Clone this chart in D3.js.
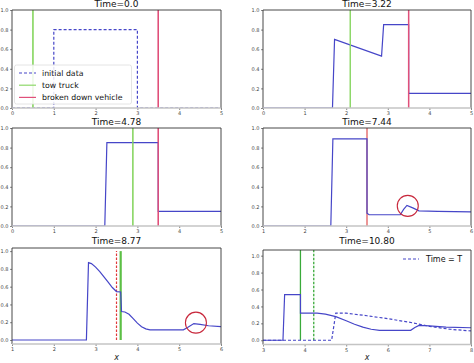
<!DOCTYPE html>
<html><head><meta charset="utf-8">
<script src="https://cdn.jsdelivr.net/npm/d3@7"></script>
<style>body{margin:0;background:#fff}svg{display:block}</style>
</head><body>
<svg id="c" width="474" height="363"></svg>
<script>
// ---- data ----
const titles = ["Time=0.0","Time=3.22","Time=4.78","Time=7.44","Time=8.77","Time=10.80"];
const xDomains = [[0,5],[0,5],[0,5],[1,6],[1,6],[3,8]];
const yTicks = [0,0.2,0.4,0.6,0.8,1.0];
const legendLabels = ["initial data","tow truck","broken down vehicle"];
const legend2Label = "Time = T";

const init_x = [0,1,1,3,3,5];
const init_y = [0,0,0.8,0.8,0,0];

const t322_x = [0,1.67,1.72,2.85,2.9,3.5,3.5,5];
const t322_y = [0,0,0.70,0.53,0.85,0.85,0.15,0.15];

const t478_x = [0,2.22,2.27,3.5,3.5,5];
const t478_y = [0,0,0.85,0.85,0.15,0.15];

const t744_x = [1,2.63,2.68,3.5,3.5,3.55,4.3,4.38,4.46,4.6,4.75,5.2,6];
const t744_y = [0,0,0.89,0.89,0.13,0.115,0.115,0.17,0.21,0.185,0.155,0.15,0.145];

const t877_x = [1,2.78,2.83,2.9,3.0,3.1,3.2,3.3,3.4,3.5,3.6,3.62,3.7,3.8,3.9,4.0,4.1,4.2,4.3,5.1,5.2,5.35,5.5,5.7,6];
const t877_y = [0,0,0.87,0.86,0.82,0.77,0.71,0.65,0.59,0.545,0.54,0.32,0.315,0.29,0.24,0.19,0.15,0.125,0.115,0.115,0.14,0.185,0.175,0.16,0.15];

const t1080_x = [3,3.48,3.52,3.9,3.9,4.3,4.5,4.75,5.0,5.2,5.4,5.6,5.8,6.55,6.65,6.75,7.0,7.4,8];
const t1080_y = [0,0,0.54,0.54,0.32,0.32,0.31,0.28,0.23,0.19,0.155,0.13,0.117,0.117,0.15,0.175,0.17,0.155,0.148];

const tT_x = [3,4.65,4.75,5.0,5.5,6.0,6.5,7.0,7.5,8];
const tT_y = [0,0,0.32,0.32,0.29,0.255,0.215,0.165,0.13,0.11];

// vertical markers: [panel, x, color, dashed, width]
const markers = [
  [0,0.5,"#8ed86a",false,1.3],[0,3.5,"#e0507a",false,1.3],
  [1,2.1,"#8ed86a",false,1.3],[1,3.5,"#e0507a",false,1.3],
  [2,2.89,"#8ed86a",false,1.3],[2,3.5,"#e0507a",false,1.3],
  [3,3.5,"#e05050",false,1.2],
  [4,3.5,"#e03a3a",true,1.2],[4,3.6,"#5cbf45",false,2.2],
  [5,3.9,"#3aaa3a",false,1.3],[5,4.22,"#3aaa3a",true,1.3]
];
// circles: [panel, x, y]
const circles = [[3,4.48,0.205],[4,5.4,0.195]];

// ---- layout ----
const boxes = [
  {l:12,r:221,t:10,b:108,yd:[0,1]},
  {l:263,r:471,t:10,b:108,yd:[0,1]},
  {l:12,r:221,t:128,b:226,yd:[0,1]},
  {l:263,r:471,t:128,b:226,yd:[0,1]},
  {l:12,r:221,t:248,b:344,yd:[-0.045,1.035]},
  {l:263,r:471,t:250,b:344.5,yd:[-0.05,1.067]}
];
const titleY = [7,7,125,125,244,244];
const blue = "#4646c8";

const svg = d3.select("#c");
const font = "DejaVu Sans, sans-serif";

boxes.forEach((bx,i)=>{
  const x = d3.scaleLinear().domain(xDomains[i]).range([bx.l,bx.r]);
  const y = d3.scaleLinear().domain(bx.yd).range([bx.b,bx.t]);
  bx.x = x; bx.y = y;
  const g = svg.append("g");
  const clipId = "clip"+i;
  svg.append("clipPath").attr("id",clipId).append("rect")
    .attr("x",bx.l).attr("y",bx.t).attr("width",bx.r-bx.l).attr("height",bx.b-bx.t);
  bx.g = g; bx.clip = "url(#"+clipId+")";

  // axes
  const xt = d3.range(xDomains[i][0], xDomains[i][1]+0.001, 1);
  const xa = d3.axisBottom(x).tickValues(xt).tickFormat(d3.format("d")).tickSize(2).tickPadding(1.5);
  const ya = d3.axisLeft(y).tickValues(yTicks).tickFormat(d3.format(".1f")).tickSize(2).tickPadding(1.5);
  const gx = g.append("g").attr("transform",`translate(0,${bx.b})`).call(xa);
  const gy = g.append("g").attr("transform",`translate(${bx.l},0)`).call(ya);
  [gx,gy].forEach(a=>{
    a.select(".domain").remove();
    a.selectAll("line").attr("stroke","#555").attr("stroke-width",0.7);
    a.selectAll("text").attr("font-family",font).attr("font-size",5).attr("fill","#444");
  });

  // title
  svg.append("text").attr("x",(bx.l+bx.r)/2).attr("y",titleY[i])
    .attr("text-anchor","middle").attr("font-family",font).attr("font-size",9).attr("fill","#111")
    .text(titles[i]);
});

const line = (bx)=>d3.line().x(d=>bx.x(d[0])).y(d=>bx.y(d[1]));
function series(i, xs, ys, dashed, color, w){
  const bx = boxes[i];
  bx.g.append("path").attr("clip-path",bx.clip)
    .datum(xs.map((v,k)=>[v,ys[k]]))
    .attr("d",line(bx)).attr("fill","none").attr("stroke",color||blue)
    .attr("stroke-width",w||1.2).attr("stroke-dasharray",dashed?"3,2":null);
}

// markers first (under curves in most panels)
markers.forEach(m=>{
  const bx = boxes[m[0]];
  const y1 = (m[0]===5) ? bx.t : bx.y(1);
  bx.g.append("line").attr("x1",bx.x(m[1])).attr("x2",bx.x(m[1]))
    .attr("y1",bx.y(Math.max(0,bx.yd[0]))).attr("y2",Math.max(bx.t,y1))
    .attr("y1", m[0]<4 ? bx.b : bx.y(0))
    .attr("stroke",m[2]).attr("stroke-width",m[4]).attr("stroke-dasharray",m[3]?"2.5,1.5":null);
});

series(0, init_x, init_y, true, blue, 1.2);
series(1, t322_x, t322_y, false);
series(2, t478_x, t478_y, false);
series(3, t744_x, t744_y, false);
series(4, t877_x, t877_y, false);
series(5, t1080_x, t1080_y, false);
series(5, tT_x, tT_y, true);

// redraw markers that sit on top of curves in the top rows
markers.filter(m=>m[0]<3).forEach(m=>{
  const bx = boxes[m[0]];
  bx.g.append("line").attr("x1",bx.x(m[1])).attr("x2",bx.x(m[1]))
    .attr("y1",bx.b).attr("y2",bx.t)
    .attr("stroke",m[2]).attr("stroke-width",m[4]);
});

circles.forEach(c=>{
  const bx = boxes[c[0]];
  bx.g.append("circle").attr("cx",bx.x(c[1])).attr("cy",bx.y(c[2])).attr("r",10.5)
    .attr("fill","none").attr("stroke","#c8283c").attr("stroke-width",1.1);
});

// frames
boxes.forEach(bx=>{
  bx.g.append("path").attr("d",`M${bx.l},${bx.b}V${bx.t}H${bx.r}V${bx.b}`)
    .attr("fill","none").attr("stroke","#333").attr("stroke-width",0.9);
  bx.g.append("line").attr("x1",bx.l).attr("x2",bx.r).attr("y1",bx.b).attr("y2",bx.b)
    .attr("stroke","#c4c4c4").attr("stroke-width",1.4);
});

// legend panel 1
{
  const lg = svg.append("g");
  lg.append("rect").attr("x",14.5).attr("y",65).attr("width",117).attr("height",39).attr("rx",2)
    .attr("fill","#fff").attr("fill-opacity",0.85).attr("stroke","#ddd").attr("stroke-width",0.8);
  const cols = [blue,"#8ed86a","#e0507a"];
  legendLabels.forEach((t,k)=>{
    const yy = 73 + k*12.2;
    lg.append("line").attr("x1",19).attr("x2",36).attr("y1",yy).attr("y2",yy)
      .attr("stroke",cols[k]).attr("stroke-width",1.2).attr("stroke-dasharray",k===0?"3,2":null);
    lg.append("text").attr("x",42).attr("y",yy+2.8).attr("font-family",font).attr("font-size",7.8)
      .attr("fill","#111").text(t);
  });
}
// legend panel 6
{
  svg.append("line").attr("x1",403).attr("x2",419).attr("y1",259).attr("y2",259)
    .attr("stroke",blue).attr("stroke-width",1.2).attr("stroke-dasharray","3,2");
  svg.append("text").attr("x",426).attr("y",262).attr("font-family",font).attr("font-size",8)
    .attr("fill","#111").text(legend2Label);
}
// x labels
[116.5,367].forEach(cx=>{
  svg.append("text").attr("x",cx).attr("y",360).attr("text-anchor","middle")
    .attr("font-family",font).attr("font-size",8).attr("font-style","italic").attr("fill","#222").text("x");
});
</script>
</body></html>
